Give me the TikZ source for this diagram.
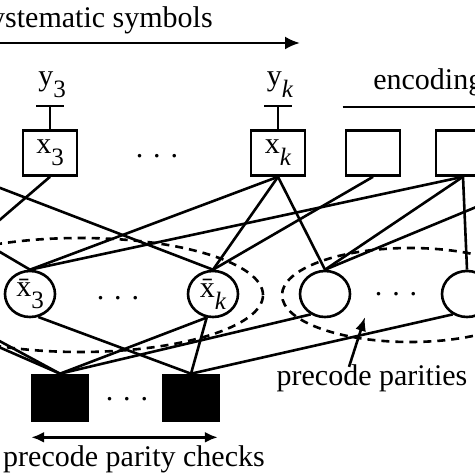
\documentclass[tikz,border=0pt]{standalone}
\usepackage{fontspec}
\setmainfont{Liberation Serif}
\usetikzlibrary{arrows.meta,shapes.geometric}
\newcommand{\lsub}[2]{#1\raisebox{-0.4em}{\fontsize{12.5}{12.5}\selectfont #2}}

\begin{document}
\begin{tikzpicture}[x=0.5pt, y=-0.5pt, line width=1.3pt,
    every node/.append style={font=\fontsize{15}{18}\selectfont},
    symbox/.style={rectangle, draw, minimum width=27pt, minimum height=22.5pt, inner sep=0pt},
    varnode/.style={ellipse, draw, minimum width=25pt, minimum height=23pt, inner sep=0pt},
    checkbox/.style={rectangle, draw, fill=black, minimum width=27.5pt, minimum height=23pt, inner sep=0pt},
    group/.style={dash pattern=on 4pt off 3pt},
    caption/.style={inner sep=0pt},
    dotrow/.style={inner sep=0pt}]

    \useasboundingbox (0,0) rectangle (474,474);

    \node(sys-3)[symbox] at (50,153) {\lsub{x}{3}};
    \node(sys-k)[symbox] at (278,153) {\lsub{x}{\textit{k}}};
    \node(enc-1)[symbox] at (373,153) {};
    \node(enc-2)[symbox] at (463,153) {};

    \node(obs-3)[caption, anchor=base] at (52,86) {\lsub{y}{3}};
    \node(obs-k)[caption, anchor=base] at (280,86) {\lsub{y}{\textit{k}}};

    \node(var-3)[varnode] at (30,294) {\lsub{\=x}{3}};
    \node(var-k)[varnode] at (213,294) {\lsub{\=x}{\textit{k}}};
    \node(par-1)[varnode] at (325,294) {};
    \node(par-2)[varnode] at (467,294) {};

    \node(chk-1)[checkbox] at (60,398) {};
    \node(chk-2)[checkbox] at (191,398) {};

    \node(dots-sys)[dotrow] at (157,156) {. . .};
    \node(dots-var)[dotrow] at (118,298) {. . .};
    \node(dots-par)[dotrow] at (396,294) {. . .};
    \node(dots-chk)[dotrow] at (127,399) {. . .};

    % ends of edges that leave the picture
    \coordinate(sys-1) at (-129,176);
    \coordinate(sys-2) at (-31,176);
    \coordinate(enc-3) at (551,176);
    \coordinate(var-2) at (-61,272);
    \coordinate(var-1-s) at (-70,317);
    \coordinate(var-2-s) at (-45,317);

    % outputs y
    \coordinate(tee-3) at (50,106);
    \coordinate(tee-k) at (278,106);
    \draw (sys-3.north) -- (tee-3);
    \draw ([xshift=-7pt]tee-3) -- ([xshift=7pt]tee-3);
    \draw (sys-k.north) -- (tee-k);
    \draw ([xshift=-7pt]tee-k) -- ([xshift=7pt]tee-k);

    % encoding graph
    \draw (sys-3.south) -- (var-2);
    \draw (sys-2) -- (var-k.north);
    \draw (sys-1) -- (var-3.north);
    \draw (sys-k.south) -- (var-3.north);
    \draw (sys-k.south) -- (var-k.north);
    \draw (sys-k.south) -- (par-1.north);
    \draw (enc-1.south) -- (var-k.north);
    \draw (enc-2.south) -- (var-3.north);
    \draw (enc-2.south) -- (par-1.north);
    \draw (enc-2.south) -- (par-2.north);
    \draw (enc-3) -- (par-1.north);

    % precode graph
    \draw (var-1-s) -- (chk-1.north);
    \draw (var-2-s) -- (chk-1.north);
    \draw (var-3.290) -- (chk-2.north);
    \draw (var-k.255) -- (chk-1.north);
    \draw (var-k.255) -- (chk-2.north);
    \draw (par-1.235) -- (chk-1.north);
    \draw (par-2.235) -- (chk-2.north);

    \draw[group] (80,295) ellipse [x radius=91.5pt, y radius=28.5pt];
    \draw[group] (410,295) ellipse [x radius=64pt, y radius=23.5pt];

    % captions
    \node(sys-label)[caption, anchor=base east] at (214,28) {systematic symbols};
    \coordinate(sys-from) at (-30,43);
    \coordinate(sys-to) at (300,43);
    \draw[-{Latex[length=7.5pt,width=6.5pt]}] (sys-from) -- (sys-to);

    \node(enc-label)[caption, anchor=base west] at (372,90) {encoding};
    \coordinate(enc-to) at (540,107);
    \draw ([xshift=-1pt]enc-1.north west |- enc-to) -- (enc-to);

    \node(par-label)[caption, anchor=base] at (372,385) {precode parities};
    \coordinate(par-tip) at (365,317);
    \draw[-{Latex[length=7pt,width=5.5pt]}] ([xshift=-11.5pt,yshift=-2pt]par-label.north) -- (par-tip);

    \node(chk-label)[caption, anchor=base] at (134,466) {precode parity checks};
    \draw[{Latex[length=6.5pt,width=5.5pt]}-{Latex[length=6.5pt,width=5.5pt]}] ([yshift=-7.5pt]chk-1.south west) -- ([xshift=-1pt,yshift=-7.5pt]chk-2.south east);
  \end{tikzpicture}
\end{document}
